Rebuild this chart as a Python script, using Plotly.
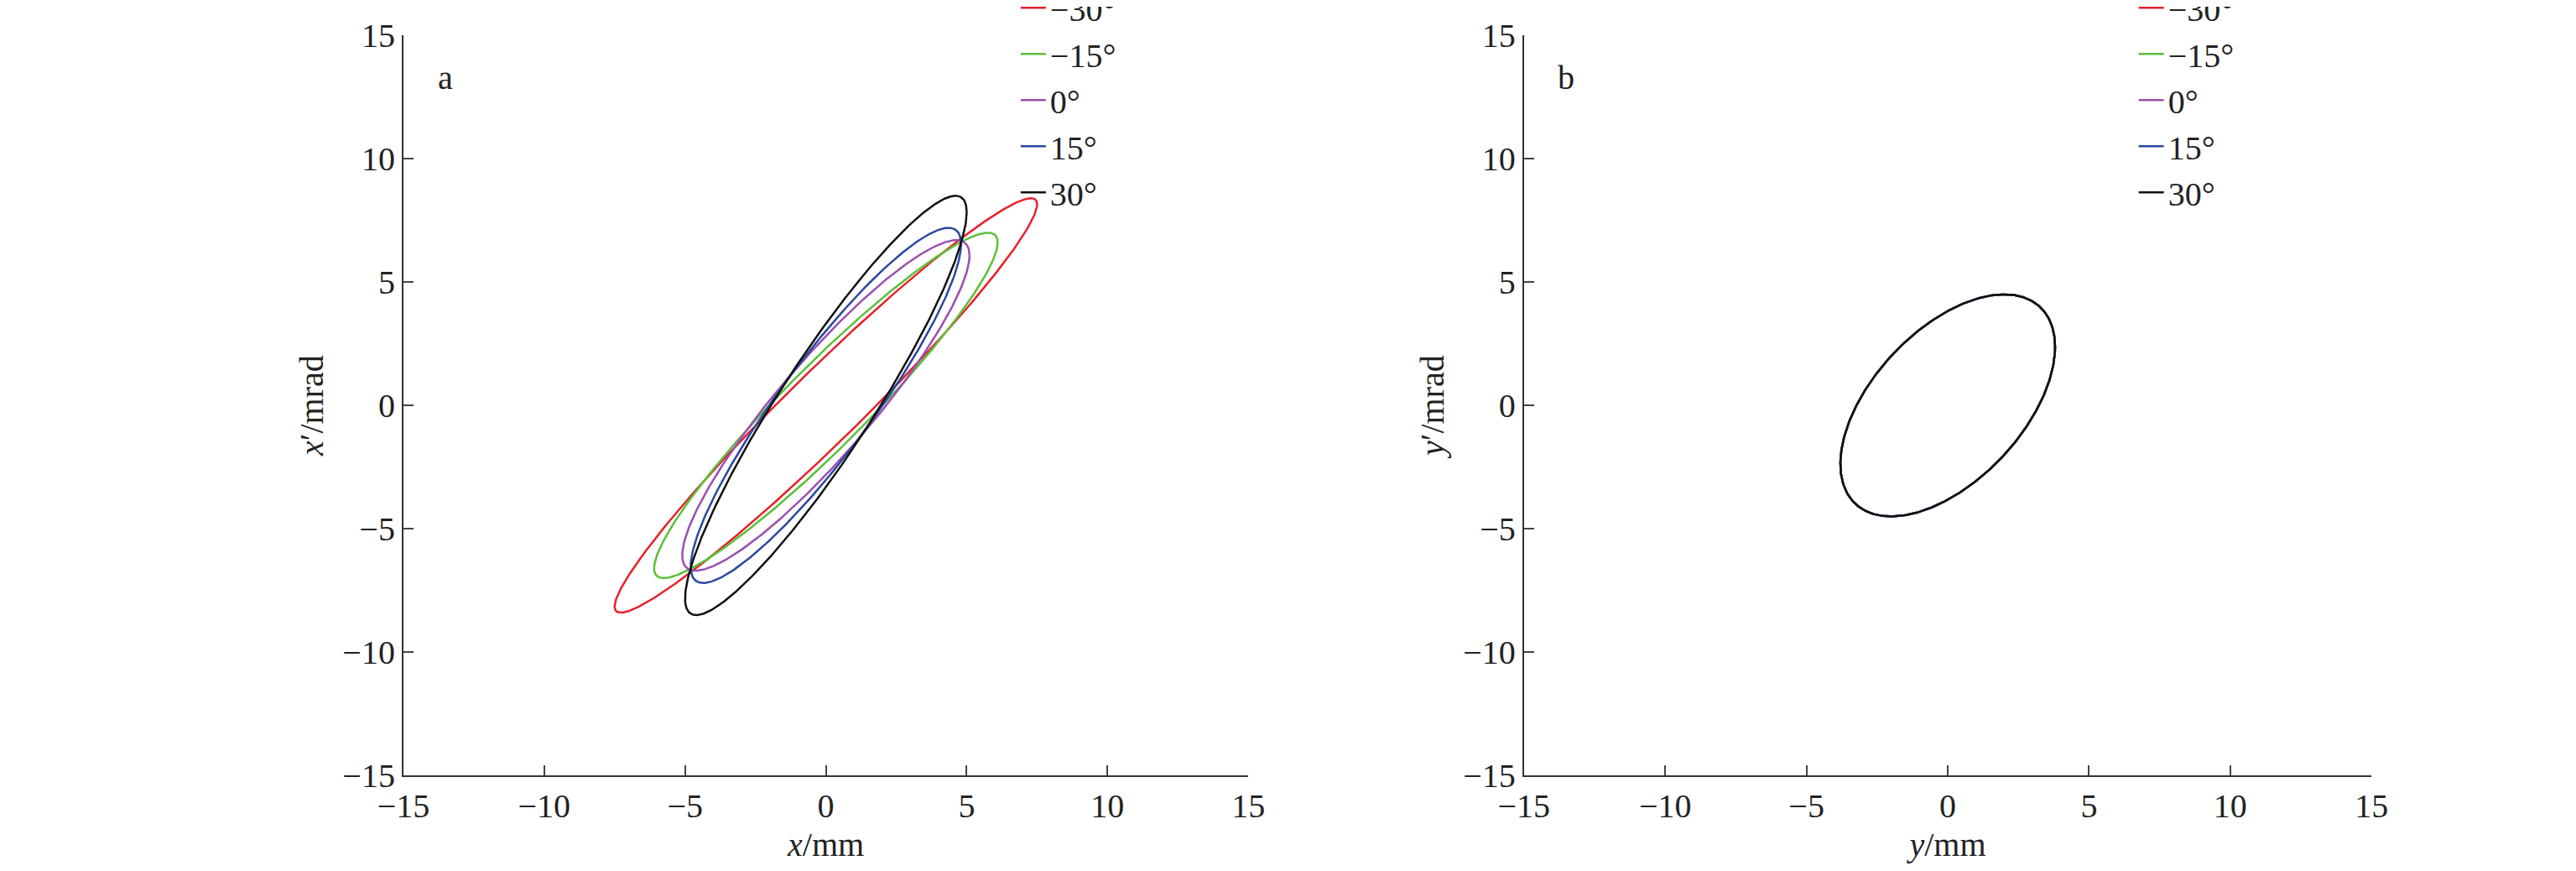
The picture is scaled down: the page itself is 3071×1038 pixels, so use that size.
import numpy as np
import plotly.graph_objects as go

angles = ["−30°", "−15°", "0°", "15°", "30°"]
colors = ["#e8202a", "#5cbf3a", "#9b4fb0", "#2a48a0", "#111111"]
# ellipse params: x amplitude, x' amplitude, phase sine
a_xmax = [7.5, 6.1, 5.1, 4.8, 5.0]
a_ymax = [8.4, 7.0, 6.7, 7.2, 8.5]
a_sin = [0.24, 0.33, 0.42, 0.42, 0.39]
b_xmax = [3.8, 3.8, 3.8, 3.8, 3.8]
b_ymax = [4.5, 4.5, 4.5, 4.5, 4.5]
b_sin = [0.85, 0.85, 0.85, 0.85, 0.85]
ticks = [-15, -10, -5, 0, 5, 10, 15]

t = np.linspace(0, 2*np.pi, 400)
fig = go.Figure()
for panel, (XM, YM, SN, xa, ya, lg) in enumerate([
        (a_xmax, a_ymax, a_sin, "x", "y", "legend"),
        (b_xmax, b_ymax, b_sin, "x2", "y2", "legend2")]):
    for i in range(5):
        phi = np.arcsin(SN[i])
        fig.add_trace(go.Scatter(x=XM[i]*np.cos(t), y=YM[i]*np.cos(t-phi), mode="lines",
                                 line=dict(color=colors[i], width=2.5), name=angles[i],
                                 xaxis=xa, yaxis=ya, legend=lg))

font = dict(family="Liberation Serif, Times New Roman, serif", size=40, color="#222")
ax = dict(range=[-15, 15], tickvals=ticks, ticktext=[str(v).replace("-", "−") for v in ticks],
          ticks="inside", ticklen=12, tickwidth=2, showline=True, linewidth=2, linecolor="#333",
          showgrid=False, zeroline=False, tickfont=font, title_font=font, automargin=False)
leg = dict(font=font, bgcolor="rgba(0,0,0,0)", tracegroupgap=0, itemwidth=30,
           xanchor="left", yanchor="top", y=1.03)
fig.update_layout(
    width=3071, height=1038, margin=dict(l=0, r=0, t=0, b=0, autoexpand=False),
    plot_bgcolor="white", paper_bgcolor="white", font=font,
    xaxis=dict(ax, domain=[0.154, 0.482], anchor="y", title=dict(text="<i>x</i>/mm", standoff=10)),
    yaxis=dict(ax, domain=[0.1175, 0.967], anchor="x", title=dict(text="<i>x</i>′/mrad", standoff=10)),
    xaxis2=dict(ax, domain=[0.589, 0.918], anchor="y2", title=dict(text="<i>y</i>/mm", standoff=10)),
    yaxis2=dict(ax, domain=[0.1175, 0.967], anchor="x2", title=dict(text="<i>y</i>′/mrad", standoff=10)),
    legend=dict(leg, x=0.392),
    legend2=dict(leg, x=0.826),
    annotations=[dict(text="a", x=-13.5, y=13.3, xref="x", yref="y", showarrow=False, font=font),
                 dict(text="b", x=-13.5, y=13.3, xref="x2", yref="y2", showarrow=False, font=font)],
)
fig.write_html("out.html")
